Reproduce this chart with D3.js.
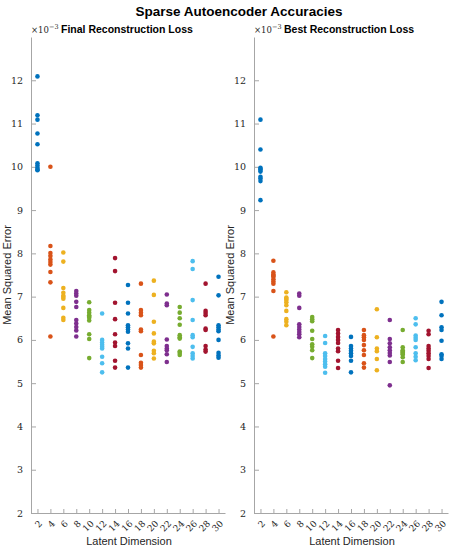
<!DOCTYPE html>
<html>
<head>
<meta charset="utf-8">
<script src="https://cdn.jsdelivr.net/npm/d3@7"></script>
<style>
  body { margin: 0; background: #fff; }
  svg { display: block; }
</style>
</head>
<body>
<svg id="chart"></svg>
<script>
// latent dimensions on the x axis
const dims = [2, 4, 6, 8, 10, 12, 14, 16, 18, 20, 22, 24, 26, 28, 30];
const yTicks = [2, 3, 4, 5, 6, 7, 8, 9, 10, 11, 12];

// final reconstruction loss (x 1e-3), one list per latent dimension
const finalLoss = [
  [12.09, 11.19, 11.09, 10.77, 10.52, 10.08, 10.03, 9.98, 9.94, 9.92],
  [10.0, 8.17, 8.01, 7.94, 7.86, 7.80, 7.74, 7.57, 7.33, 6.08],
  [8.02, 7.81, 7.20, 7.09, 7.02, 6.99, 6.95, 6.74, 6.51, 6.46],
  [7.13, 7.07, 7.02, 6.88, 6.76, 6.46, 6.38, 6.30, 6.22, 6.08],
  [6.87, 6.69, 6.63, 6.57, 6.54, 6.51, 6.45, 6.13, 6.02, 5.58],
  [6.61, 6.00, 5.94, 5.89, 5.84, 5.80, 5.61, 5.46, 5.25],
  [7.89, 7.59, 6.86, 6.48, 6.13, 5.94, 5.86, 5.52, 5.36],
  [7.27, 6.86, 6.61, 6.34, 6.29, 6.24, 6.19, 5.92, 5.80, 5.36],
  [7.30, 6.69, 6.63, 6.57, 6.24, 6.20, 5.65, 5.47, 5.42, 5.36],
  [7.37, 7.04, 6.42, 6.15, 5.96, 5.92, 5.75, 5.69, 5.57],
  [7.05, 6.84, 6.80, 6.01, 5.86, 5.80, 5.76, 5.67, 5.49],
  [6.76, 6.63, 6.50, 6.35, 6.11, 6.06, 6.03, 5.73, 5.70, 5.65],
  [7.82, 7.64, 6.92, 6.46, 6.11, 6.06, 5.84, 5.69, 5.63, 5.57],
  [7.30, 6.67, 6.62, 6.57, 6.26, 6.23, 5.86, 5.78, 5.73],
  [7.46, 7.03, 6.34, 6.29, 6.24, 6.20, 6.00, 5.70, 5.64, 5.59]
];

// best reconstruction loss (x 1e-3)
const bestLoss = [
  [11.09, 10.40, 9.98, 9.95, 9.93, 9.89, 9.77, 9.73, 9.67, 9.23],
  [7.83, 7.56, 7.51, 7.48, 7.46, 7.40, 7.35, 7.30, 7.13, 6.08],
  [7.10, 6.98, 6.95, 6.92, 6.87, 6.80, 6.67, 6.48, 6.42, 6.34],
  [7.07, 7.02, 6.74, 6.36, 6.30, 6.24, 6.18, 6.13, 6.06],
  [6.53, 6.48, 6.43, 6.21, 6.02, 5.90, 5.84, 5.76, 5.58],
  [6.09, 5.93, 5.69, 5.63, 5.56, 5.50, 5.44, 5.38, 5.24],
  [6.23, 6.15, 6.07, 6.00, 5.93, 5.80, 5.74, 5.52, 5.35],
  [6.07, 5.86, 5.80, 5.75, 5.69, 5.63, 5.52, 5.25],
  [6.23, 6.11, 6.06, 6.00, 5.88, 5.76, 5.65, 5.46, 5.36],
  [6.71, 6.06, 5.80, 5.74, 5.56, 5.30],
  [6.46, 6.02, 5.92, 5.83, 5.76, 5.70, 5.64, 5.49, 4.95],
  [6.23, 5.83, 5.76, 5.73, 5.71, 5.68, 5.66, 5.60, 5.49],
  [6.50, 6.36, 6.10, 6.05, 6.00, 5.83, 5.69, 5.61, 5.53],
  [6.21, 6.13, 5.86, 5.80, 5.75, 5.69, 5.63, 5.56, 5.35],
  [6.88, 6.57, 6.29, 6.23, 5.98, 5.67, 5.63, 5.56]
];

const palette = ['#0072BD', '#D95319', '#EDB120', '#7E2F8E', '#77AC30', '#4DBEEE', '#A2142F'];

const W = 459, H = 550;
const svg = d3.select('#chart').attr('width', W).attr('height', H);

svg.append('text')
  .attr('x', 239).attr('y', 16)
  .attr('text-anchor', 'middle')
  .attr('font-family', 'Liberation Sans, Arial, sans-serif')
  .attr('font-weight', 'bold')
  .attr('font-size', 13.5)
  .attr('fill', '#000')
  .text('Sparse Autoencoder Accuracies');

function drawPanel(left, title, values) {
  const top = 37, bottom = 513, width = 194;

  const x = d3.scaleLinear().domain([1, 31]).range([left, left + width]);
  const y = d3.scaleLinear().domain([2, 13]).range([bottom, top]);

  const g = svg.append('g');

  // axes (MATLAB-style inward ticks)
  const yAxis = d3.axisLeft(y).tickValues(yTicks).tickSize(-5).tickSizeOuter(0).tickPadding(8);
  const yg = g.append('g').attr('transform', `translate(${left},0)`).call(yAxis);

  const xAxis = d3.axisBottom(x).tickValues(dims).tickSize(-4).tickSizeOuter(0).tickFormat('');
  const xg = g.append('g').attr('transform', `translate(0,${bottom})`).call(xAxis);

  [yg, xg].forEach(a => {
    a.select('.domain').attr('stroke', '#a6a6a6').attr('stroke-width', 1);
    a.selectAll('.tick line').attr('stroke', '#a6a6a6');
  });
  yg.selectAll('.tick text')
    .attr('font-family', 'DejaVu Serif, serif')
    .attr('font-size', 9.5)
    .attr('fill', '#262626');

  // rotated x tick labels
  g.selectAll('.xlab')
    .data(dims)
    .enter()
    .append('text')
    .attr('transform', d => `translate(${x(d) + 3},${bottom + 9}) rotate(-45)`)
    .attr('text-anchor', 'end')
    .attr('dy', '0.35em')
    .attr('font-family', 'DejaVu Serif, serif')
    .attr('font-size', 9)
    .attr('fill', '#262626')
    .text(d => d);

  // points
  dims.forEach((d, i) => {
    g.selectAll(null)
      .data(values[i])
      .enter()
      .append('circle')
      .attr('cx', x(d))
      .attr('cy', v => y(v))
      .attr('r', 2.3)
      .attr('fill', palette[i % palette.length]);
  });

  // exponent label
  const ex = g.append('text')
    .attr('x', left).attr('y', 33)
    .attr('font-family', 'DejaVu Serif, serif')
    .attr('font-size', 8.5)
    .attr('fill', '#262626');
  ex.append('tspan').text('\u00d710');
  ex.append('tspan').attr('dy', -4).attr('font-size', 6.5).text('\u22123');

  g.append('text')
    .attr('x', left + 30).attr('y', 33)
    .attr('font-family', 'Liberation Sans, Arial, sans-serif')
    .attr('font-weight', 'bold')
    .attr('font-size', 10.5)
    .attr('fill', '#000')
    .text(title);

  g.append('text')
    .attr('x', left + width / 2 + 1).attr('y', 545)
    .attr('text-anchor', 'middle')
    .attr('font-family', 'Liberation Sans, Arial, sans-serif')
    .attr('font-size', 11)
    .attr('fill', '#262626')
    .text('Latent Dimension');

  g.append('text')
    .attr('transform', `translate(${left - 20},${(top + bottom) / 2}) rotate(-90)`)
    .attr('text-anchor', 'middle')
    .attr('font-family', 'Liberation Sans, Arial, sans-serif')
    .attr('font-size', 11)
    .attr('fill', '#262626')
    .text('Mean Squared Error');
}

drawPanel(31, 'Final Reconstruction Loss', finalLoss);
drawPanel(254, 'Best Reconstruction Loss', bestLoss);
</script>
</body>
</html>
